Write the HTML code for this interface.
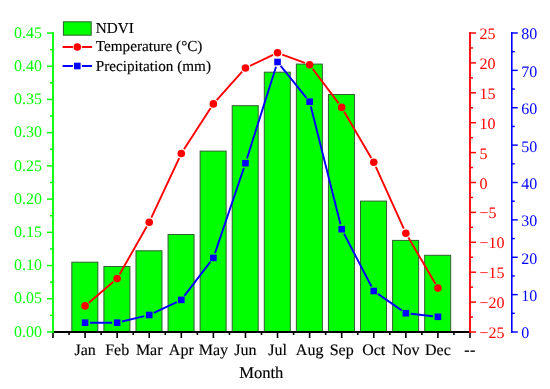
<!DOCTYPE html><html><head><meta charset="utf-8"><style>html,body{margin:0;padding:0;background:#fff;}svg{display:block;}text{font-family:"Liberation Serif","Times New Roman",serif;text-rendering:geometricPrecision;stroke-width:0.15px;paint-order:stroke;}</style></head><body>
<svg width="550" height="389" viewBox="0 0 550 389">
<rect width="550" height="389" fill="#fff"/>
<rect x="71.83" y="262.20" width="26.00" height="69.80" fill="#00ff00" stroke="#2f5f2f" stroke-width="1"/>
<rect x="103.90" y="266.50" width="26.00" height="65.50" fill="#00ff00" stroke="#2f5f2f" stroke-width="1"/>
<rect x="135.98" y="250.80" width="26.00" height="81.20" fill="#00ff00" stroke="#2f5f2f" stroke-width="1"/>
<rect x="168.06" y="234.50" width="26.00" height="97.50" fill="#00ff00" stroke="#2f5f2f" stroke-width="1"/>
<rect x="200.13" y="151.10" width="26.00" height="180.90" fill="#00ff00" stroke="#2f5f2f" stroke-width="1"/>
<rect x="232.21" y="105.70" width="26.00" height="226.30" fill="#00ff00" stroke="#2f5f2f" stroke-width="1"/>
<rect x="264.29" y="72.20" width="26.00" height="259.80" fill="#00ff00" stroke="#2f5f2f" stroke-width="1"/>
<rect x="296.37" y="64.10" width="26.00" height="267.90" fill="#00ff00" stroke="#2f5f2f" stroke-width="1"/>
<rect x="328.44" y="94.50" width="26.00" height="237.50" fill="#00ff00" stroke="#2f5f2f" stroke-width="1"/>
<rect x="360.52" y="201.10" width="26.00" height="130.90" fill="#00ff00" stroke="#2f5f2f" stroke-width="1"/>
<rect x="392.60" y="240.40" width="26.00" height="91.60" fill="#00ff00" stroke="#2f5f2f" stroke-width="1"/>
<rect x="424.67" y="255.30" width="26.00" height="76.70" fill="#00ff00" stroke="#2f5f2f" stroke-width="1"/>
<path d="M88.88 302.66L113.35 281.84M119.63 274.25L146.76 226.55M151.35 217.67L179.19 158.03M184.02 149.30L210.67 108.10M216.72 100.17L242.13 71.73M249.98 65.86L273.02 54.94M282.23 54.54L304.93 62.96M312.62 68.70L338.69 103.40M344.21 111.72L371.25 157.98M375.83 166.86L403.79 228.64M408.37 237.52L435.40 283.78" stroke="#ff0000" stroke-width="1.9" fill="none"/>
<path d="M90.08 322.70L112.15 322.70M122.02 321.53L144.37 316.17M153.75 312.87L176.78 302.03M184.34 295.93L210.35 261.87M214.99 253.16L243.86 167.94M246.97 158.43L276.03 66.77M280.68 65.89L306.47 97.81M310.84 106.55L340.47 224.35M344.00 233.64L371.47 286.56M377.88 293.85L401.73 310.35M410.81 313.76L432.95 316.24" stroke="#0000ff" stroke-width="1.9" fill="none"/>
<circle cx="85.08" cy="305.90" r="3.8" fill="#ff0000"/>
<circle cx="117.15" cy="278.60" r="3.8" fill="#ff0000"/>
<circle cx="149.23" cy="222.20" r="3.8" fill="#ff0000"/>
<circle cx="181.31" cy="153.50" r="3.8" fill="#ff0000"/>
<circle cx="213.38" cy="103.90" r="3.8" fill="#ff0000"/>
<circle cx="245.46" cy="68.00" r="3.8" fill="#ff0000"/>
<circle cx="277.54" cy="52.80" r="3.8" fill="#ff0000"/>
<circle cx="309.62" cy="64.70" r="3.8" fill="#ff0000"/>
<circle cx="341.69" cy="107.40" r="3.8" fill="#ff0000"/>
<circle cx="373.77" cy="162.30" r="3.8" fill="#ff0000"/>
<circle cx="405.85" cy="233.20" r="3.8" fill="#ff0000"/>
<circle cx="437.92" cy="288.10" r="3.8" fill="#ff0000"/>
<rect x="81.78" y="319.40" width="6.6" height="6.6" fill="#0000ff"/>
<rect x="113.85" y="319.40" width="6.6" height="6.6" fill="#0000ff"/>
<rect x="145.93" y="311.70" width="6.6" height="6.6" fill="#0000ff"/>
<rect x="178.01" y="296.60" width="6.6" height="6.6" fill="#0000ff"/>
<rect x="210.08" y="254.60" width="6.6" height="6.6" fill="#0000ff"/>
<rect x="242.16" y="159.90" width="6.6" height="6.6" fill="#0000ff"/>
<rect x="274.24" y="58.70" width="6.6" height="6.6" fill="#0000ff"/>
<rect x="306.32" y="98.40" width="6.6" height="6.6" fill="#0000ff"/>
<rect x="338.39" y="225.90" width="6.6" height="6.6" fill="#0000ff"/>
<rect x="370.47" y="287.70" width="6.6" height="6.6" fill="#0000ff"/>
<rect x="402.55" y="309.90" width="6.6" height="6.6" fill="#0000ff"/>
<rect x="434.62" y="313.50" width="6.6" height="6.6" fill="#0000ff"/>
<line x1="52.0" y1="332.0" x2="471.00000000000006" y2="332.0" stroke="#000" stroke-width="1.8"/>
<line x1="53.00" y1="332.0" x2="53.00" y2="338.00" stroke="#000" stroke-width="1.6"/>
<line x1="69.04" y1="332.0" x2="69.04" y2="335.00" stroke="#000" stroke-width="1.6"/>
<line x1="85.08" y1="332.0" x2="85.08" y2="338.00" stroke="#000" stroke-width="1.6"/>
<line x1="101.12" y1="332.0" x2="101.12" y2="335.00" stroke="#000" stroke-width="1.6"/>
<line x1="117.15" y1="332.0" x2="117.15" y2="338.00" stroke="#000" stroke-width="1.6"/>
<line x1="133.19" y1="332.0" x2="133.19" y2="335.00" stroke="#000" stroke-width="1.6"/>
<line x1="149.23" y1="332.0" x2="149.23" y2="338.00" stroke="#000" stroke-width="1.6"/>
<line x1="165.27" y1="332.0" x2="165.27" y2="335.00" stroke="#000" stroke-width="1.6"/>
<line x1="181.31" y1="332.0" x2="181.31" y2="338.00" stroke="#000" stroke-width="1.6"/>
<line x1="197.35" y1="332.0" x2="197.35" y2="335.00" stroke="#000" stroke-width="1.6"/>
<line x1="213.38" y1="332.0" x2="213.38" y2="338.00" stroke="#000" stroke-width="1.6"/>
<line x1="229.42" y1="332.0" x2="229.42" y2="335.00" stroke="#000" stroke-width="1.6"/>
<line x1="245.46" y1="332.0" x2="245.46" y2="338.00" stroke="#000" stroke-width="1.6"/>
<line x1="261.50" y1="332.0" x2="261.50" y2="335.00" stroke="#000" stroke-width="1.6"/>
<line x1="277.54" y1="332.0" x2="277.54" y2="338.00" stroke="#000" stroke-width="1.6"/>
<line x1="293.58" y1="332.0" x2="293.58" y2="335.00" stroke="#000" stroke-width="1.6"/>
<line x1="309.62" y1="332.0" x2="309.62" y2="338.00" stroke="#000" stroke-width="1.6"/>
<line x1="325.65" y1="332.0" x2="325.65" y2="335.00" stroke="#000" stroke-width="1.6"/>
<line x1="341.69" y1="332.0" x2="341.69" y2="338.00" stroke="#000" stroke-width="1.6"/>
<line x1="357.73" y1="332.0" x2="357.73" y2="335.00" stroke="#000" stroke-width="1.6"/>
<line x1="373.77" y1="332.0" x2="373.77" y2="338.00" stroke="#000" stroke-width="1.6"/>
<line x1="389.81" y1="332.0" x2="389.81" y2="335.00" stroke="#000" stroke-width="1.6"/>
<line x1="405.85" y1="332.0" x2="405.85" y2="338.00" stroke="#000" stroke-width="1.6"/>
<line x1="421.88" y1="332.0" x2="421.88" y2="335.00" stroke="#000" stroke-width="1.6"/>
<line x1="437.92" y1="332.0" x2="437.92" y2="338.00" stroke="#000" stroke-width="1.6"/>
<line x1="453.96" y1="332.0" x2="453.96" y2="335.00" stroke="#000" stroke-width="1.6"/>
<line x1="470.00" y1="332.0" x2="470.00" y2="338.00" stroke="#000" stroke-width="1.6"/>
<text x="85.08" y="355" font-size="16" fill="#000" stroke="#000" text-anchor="middle">Jan</text>
<text x="117.15" y="355" font-size="16" fill="#000" stroke="#000" text-anchor="middle">Feb</text>
<text x="149.23" y="355" font-size="16" fill="#000" stroke="#000" text-anchor="middle">Mar</text>
<text x="181.31" y="355" font-size="16" fill="#000" stroke="#000" text-anchor="middle">Apr</text>
<text x="213.38" y="355" font-size="16" fill="#000" stroke="#000" text-anchor="middle">May</text>
<text x="245.46" y="355" font-size="16" fill="#000" stroke="#000" text-anchor="middle">Jun</text>
<text x="277.54" y="355" font-size="16" fill="#000" stroke="#000" text-anchor="middle">Jul</text>
<text x="309.62" y="355" font-size="16" fill="#000" stroke="#000" text-anchor="middle">Aug</text>
<text x="341.69" y="355" font-size="16" fill="#000" stroke="#000" text-anchor="middle">Sep</text>
<text x="373.77" y="355" font-size="16" fill="#000" stroke="#000" text-anchor="middle">Oct</text>
<text x="405.85" y="355" font-size="16" fill="#000" stroke="#000" text-anchor="middle">Nov</text>
<text x="437.92" y="355" font-size="16" fill="#000" stroke="#000" text-anchor="middle">Dec</text>
<text x="464.20" y="355" font-size="16" fill="#000" stroke="#000" stroke-width="0.4" letter-spacing="0.4">--</text>
<text x="261.3" y="378.3" font-size="16.6" fill="#000" stroke="#000" text-anchor="middle">Month</text>
<line x1="53.0" y1="32.08" x2="53.0" y2="332.93" stroke="#00ff00" stroke-width="1.85"/>
<line x1="47.00" y1="332.00" x2="53.0" y2="332.00" stroke="#00ff00" stroke-width="1.45"/>
<text x="42.00" y="336.70" font-size="16" fill="#00ff00" text-anchor="end">0.00</text>
<line x1="50.00" y1="315.39" x2="53.0" y2="315.39" stroke="#00ff00" stroke-width="1.45"/>
<line x1="47.00" y1="298.78" x2="53.0" y2="298.78" stroke="#00ff00" stroke-width="1.45"/>
<text x="42.00" y="303.48" font-size="16" fill="#00ff00" text-anchor="end">0.05</text>
<line x1="50.00" y1="282.17" x2="53.0" y2="282.17" stroke="#00ff00" stroke-width="1.45"/>
<line x1="47.00" y1="265.56" x2="53.0" y2="265.56" stroke="#00ff00" stroke-width="1.45"/>
<text x="42.00" y="270.26" font-size="16" fill="#00ff00" text-anchor="end">0.10</text>
<line x1="50.00" y1="248.94" x2="53.0" y2="248.94" stroke="#00ff00" stroke-width="1.45"/>
<line x1="47.00" y1="232.33" x2="53.0" y2="232.33" stroke="#00ff00" stroke-width="1.45"/>
<text x="42.00" y="237.03" font-size="16" fill="#00ff00" text-anchor="end">0.15</text>
<line x1="50.00" y1="215.72" x2="53.0" y2="215.72" stroke="#00ff00" stroke-width="1.45"/>
<line x1="47.00" y1="199.11" x2="53.0" y2="199.11" stroke="#00ff00" stroke-width="1.45"/>
<text x="42.00" y="203.81" font-size="16" fill="#00ff00" text-anchor="end">0.20</text>
<line x1="50.00" y1="182.50" x2="53.0" y2="182.50" stroke="#00ff00" stroke-width="1.45"/>
<line x1="47.00" y1="165.89" x2="53.0" y2="165.89" stroke="#00ff00" stroke-width="1.45"/>
<text x="42.00" y="170.59" font-size="16" fill="#00ff00" text-anchor="end">0.25</text>
<line x1="50.00" y1="149.28" x2="53.0" y2="149.28" stroke="#00ff00" stroke-width="1.45"/>
<line x1="47.00" y1="132.67" x2="53.0" y2="132.67" stroke="#00ff00" stroke-width="1.45"/>
<text x="42.00" y="137.37" font-size="16" fill="#00ff00" text-anchor="end">0.30</text>
<line x1="50.00" y1="116.06" x2="53.0" y2="116.06" stroke="#00ff00" stroke-width="1.45"/>
<line x1="47.00" y1="99.44" x2="53.0" y2="99.44" stroke="#00ff00" stroke-width="1.45"/>
<text x="42.00" y="104.14" font-size="16" fill="#00ff00" text-anchor="end">0.35</text>
<line x1="50.00" y1="82.83" x2="53.0" y2="82.83" stroke="#00ff00" stroke-width="1.45"/>
<line x1="47.00" y1="66.22" x2="53.0" y2="66.22" stroke="#00ff00" stroke-width="1.45"/>
<text x="42.00" y="70.92" font-size="16" fill="#00ff00" text-anchor="end">0.40</text>
<line x1="50.00" y1="49.61" x2="53.0" y2="49.61" stroke="#00ff00" stroke-width="1.45"/>
<line x1="47.00" y1="33.00" x2="53.0" y2="33.00" stroke="#00ff00" stroke-width="1.45"/>
<text x="42.00" y="37.70" font-size="16" fill="#00ff00" text-anchor="end">0.45</text>
<line x1="470.00000000000006" y1="32.08" x2="470.00000000000006" y2="332.93" stroke="#ff0000" stroke-width="1.85"/>
<line x1="470.00000000000006" y1="332.00" x2="476.00" y2="332.00" stroke="#ff0000" stroke-width="1.45"/>
<text x="479.50" y="338.00" font-size="16" fill="#ff0000">−25</text>
<line x1="470.00000000000006" y1="317.05" x2="473.00" y2="317.05" stroke="#ff0000" stroke-width="1.45"/>
<line x1="470.00000000000006" y1="302.10" x2="476.00" y2="302.10" stroke="#ff0000" stroke-width="1.45"/>
<text x="479.50" y="308.10" font-size="16" fill="#ff0000">−20</text>
<line x1="470.00000000000006" y1="287.15" x2="473.00" y2="287.15" stroke="#ff0000" stroke-width="1.45"/>
<line x1="470.00000000000006" y1="272.20" x2="476.00" y2="272.20" stroke="#ff0000" stroke-width="1.45"/>
<text x="479.50" y="278.20" font-size="16" fill="#ff0000">−15</text>
<line x1="470.00000000000006" y1="257.25" x2="473.00" y2="257.25" stroke="#ff0000" stroke-width="1.45"/>
<line x1="470.00000000000006" y1="242.30" x2="476.00" y2="242.30" stroke="#ff0000" stroke-width="1.45"/>
<text x="479.50" y="248.30" font-size="16" fill="#ff0000">−10</text>
<line x1="470.00000000000006" y1="227.35" x2="473.00" y2="227.35" stroke="#ff0000" stroke-width="1.45"/>
<line x1="470.00000000000006" y1="212.40" x2="476.00" y2="212.40" stroke="#ff0000" stroke-width="1.45"/>
<text x="479.50" y="218.40" font-size="16" fill="#ff0000">−5</text>
<line x1="470.00000000000006" y1="197.45" x2="473.00" y2="197.45" stroke="#ff0000" stroke-width="1.45"/>
<line x1="470.00000000000006" y1="182.50" x2="476.00" y2="182.50" stroke="#ff0000" stroke-width="1.45"/>
<text x="479.50" y="188.50" font-size="16" fill="#ff0000">0</text>
<line x1="470.00000000000006" y1="167.55" x2="473.00" y2="167.55" stroke="#ff0000" stroke-width="1.45"/>
<line x1="470.00000000000006" y1="152.60" x2="476.00" y2="152.60" stroke="#ff0000" stroke-width="1.45"/>
<text x="479.50" y="158.60" font-size="16" fill="#ff0000">5</text>
<line x1="470.00000000000006" y1="137.65" x2="473.00" y2="137.65" stroke="#ff0000" stroke-width="1.45"/>
<line x1="470.00000000000006" y1="122.70" x2="476.00" y2="122.70" stroke="#ff0000" stroke-width="1.45"/>
<text x="479.50" y="128.70" font-size="16" fill="#ff0000">10</text>
<line x1="470.00000000000006" y1="107.75" x2="473.00" y2="107.75" stroke="#ff0000" stroke-width="1.45"/>
<line x1="470.00000000000006" y1="92.80" x2="476.00" y2="92.80" stroke="#ff0000" stroke-width="1.45"/>
<text x="479.50" y="98.80" font-size="16" fill="#ff0000">15</text>
<line x1="470.00000000000006" y1="77.85" x2="473.00" y2="77.85" stroke="#ff0000" stroke-width="1.45"/>
<line x1="470.00000000000006" y1="62.90" x2="476.00" y2="62.90" stroke="#ff0000" stroke-width="1.45"/>
<text x="479.50" y="68.90" font-size="16" fill="#ff0000">20</text>
<line x1="470.00000000000006" y1="47.95" x2="473.00" y2="47.95" stroke="#ff0000" stroke-width="1.45"/>
<line x1="470.00000000000006" y1="33.00" x2="476.00" y2="33.00" stroke="#ff0000" stroke-width="1.45"/>
<text x="479.50" y="39.00" font-size="16" fill="#ff0000">25</text>
<line x1="511.8" y1="32.20" x2="511.8" y2="332.80" stroke="#0000ff" stroke-width="1.6"/>
<line x1="511.0" y1="332.00" x2="517.80" y2="332.00" stroke="#0000ff" stroke-width="1.45"/>
<text x="521.30" y="338.40" font-size="16" fill="#0000ff">0</text>
<line x1="511.0" y1="313.31" x2="514.80" y2="313.31" stroke="#0000ff" stroke-width="1.45"/>
<line x1="511.0" y1="294.62" x2="517.80" y2="294.62" stroke="#0000ff" stroke-width="1.45"/>
<text x="521.30" y="301.02" font-size="16" fill="#0000ff">10</text>
<line x1="511.0" y1="275.94" x2="514.80" y2="275.94" stroke="#0000ff" stroke-width="1.45"/>
<line x1="511.0" y1="257.25" x2="517.80" y2="257.25" stroke="#0000ff" stroke-width="1.45"/>
<text x="521.30" y="263.65" font-size="16" fill="#0000ff">20</text>
<line x1="511.0" y1="238.56" x2="514.80" y2="238.56" stroke="#0000ff" stroke-width="1.45"/>
<line x1="511.0" y1="219.88" x2="517.80" y2="219.88" stroke="#0000ff" stroke-width="1.45"/>
<text x="521.30" y="226.28" font-size="16" fill="#0000ff">30</text>
<line x1="511.0" y1="201.19" x2="514.80" y2="201.19" stroke="#0000ff" stroke-width="1.45"/>
<line x1="511.0" y1="182.50" x2="517.80" y2="182.50" stroke="#0000ff" stroke-width="1.45"/>
<text x="521.30" y="188.90" font-size="16" fill="#0000ff">40</text>
<line x1="511.0" y1="163.81" x2="514.80" y2="163.81" stroke="#0000ff" stroke-width="1.45"/>
<line x1="511.0" y1="145.12" x2="517.80" y2="145.12" stroke="#0000ff" stroke-width="1.45"/>
<text x="521.30" y="151.53" font-size="16" fill="#0000ff">50</text>
<line x1="511.0" y1="126.44" x2="514.80" y2="126.44" stroke="#0000ff" stroke-width="1.45"/>
<line x1="511.0" y1="107.75" x2="517.80" y2="107.75" stroke="#0000ff" stroke-width="1.45"/>
<text x="521.30" y="114.15" font-size="16" fill="#0000ff">60</text>
<line x1="511.0" y1="89.06" x2="514.80" y2="89.06" stroke="#0000ff" stroke-width="1.45"/>
<line x1="511.0" y1="70.38" x2="517.80" y2="70.38" stroke="#0000ff" stroke-width="1.45"/>
<text x="521.30" y="76.78" font-size="16" fill="#0000ff">70</text>
<line x1="511.0" y1="51.69" x2="514.80" y2="51.69" stroke="#0000ff" stroke-width="1.45"/>
<line x1="511.0" y1="33.00" x2="517.80" y2="33.00" stroke="#0000ff" stroke-width="1.45"/>
<text x="521.30" y="39.40" font-size="16" fill="#0000ff">80</text>
<rect x="63.4" y="21.8" width="27.8" height="13.4" fill="#00ff00" stroke="#2f5f2f" stroke-width="1"/>
<text x="95.8" y="32.8" font-size="15.2" fill="#000" stroke="#000">NDVI</text>
<path d="M62.6 47H72.9M81.9 47H92" stroke="#ff0000" stroke-width="2"/>
<circle cx="77.3" cy="47" r="3.8" fill="#ff0000"/>
<text x="95.8" y="51.4" font-size="15.2" fill="#000" stroke="#000">Temperature (°C)</text>
<path d="M62.6 66H72.9M81.9 66H92" stroke="#0000ff" stroke-width="2"/>
<rect x="74.00" y="62.70" width="6.6" height="6.6" fill="#0000ff"/>
<text x="95.8" y="70.7" font-size="15.2" fill="#000" stroke="#000">Precipitation (mm)</text>
</svg></body></html>
